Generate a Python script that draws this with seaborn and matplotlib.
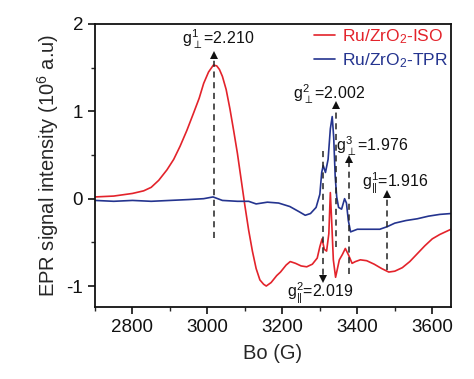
import numpy as np
import pandas as pd
import seaborn as sns
import matplotlib
matplotlib.use("Agg")
import matplotlib.pyplot as plt

# -------------------------
# data
# -------------------------
iso_field = [2700, 2750, 2800, 2830, 2850, 2870, 2892, 2910, 2927, 2945, 2963, 2978,
             2990, 3003, 3016, 3025, 3032, 3040, 3050, 3060, 3070, 3080, 3090, 3100,
             3110, 3120, 3130, 3140, 3150, 3157, 3170, 3185, 3195, 3210, 3221, 3235,
             3250, 3265, 3280, 3293, 3300, 3306, 3312, 3318, 3324, 3328, 3332, 3336,
             3342, 3347, 3352, 3360, 3368, 3376, 3386, 3395, 3408, 3425, 3445, 3465,
             3484, 3500, 3520, 3540, 3560, 3580, 3600, 3620, 3640, 3650]
iso_signal = [0.02, 0.03, 0.06, 0.09, 0.13, 0.21, 0.33, 0.45, 0.60, 0.78, 0.98, 1.15,
              1.32, 1.45, 1.53, 1.52, 1.48, 1.40, 1.25, 1.03, 0.78, 0.52, 0.22, -0.08,
              -0.36, -0.60, -0.80, -0.93, -0.98, -1.00, -0.96, -0.88, -0.84, -0.76, -0.72, -0.74,
              -0.77, -0.78, -0.75, -0.68, -0.55, -0.46, -0.58, -0.60, -0.40, 0.07, -0.30, -0.70,
              -0.90, -0.80, -0.70, -0.64, -0.57, -0.64, -0.74, -0.72, -0.70, -0.71, -0.75, -0.80,
              -0.84, -0.83, -0.79, -0.72, -0.63, -0.54, -0.46, -0.41, -0.37, -0.35]

tpr_field = [2700, 2750, 2800, 2850, 2900, 2950, 2990, 3015, 3040, 3080, 3110, 3130,
             3160, 3190, 3220, 3245, 3261, 3275, 3290, 3300, 3305, 3309, 3315, 3322,
             3328, 3333, 3337, 3341, 3345, 3350, 3358, 3366, 3371, 3376, 3382, 3400,
             3430, 3460, 3480, 3500, 3530, 3560, 3590, 3620, 3650]
tpr_signal = [-0.02, -0.03, -0.02, -0.03, -0.02, -0.01, 0.00, 0.02, -0.02, -0.03, -0.03, -0.06,
              -0.04, -0.05, -0.09, -0.15, -0.19, -0.17, -0.10, 0.05, 0.30, 0.38, 0.30, 0.45,
              0.80, 0.94, 0.70, 0.25, 0.02, -0.10, -0.12, 0.00, -0.05, -0.25, -0.38, -0.35,
              -0.35, -0.35, -0.32, -0.28, -0.25, -0.23, -0.20, -0.18, -0.17]

# g-factor markers: field, dashed line start, arrow tip, label
g_field = [3018, 3342, 3309, 3377, 3480]
g_from = [-0.45, -0.55, 0.55, -0.86, -0.82]
g_to = [1.65, 1.07, -0.92, 0.45, 0.05]
g_labels = ["g$^{1}_{\\perp}$=2.210", "g$^{2}_{\\perp}$=2.002", "g$^{2}_{||}$=2.019",
            "g$^{3}_{\\perp}$=1.976", "g$^{1}_{||}$=1.916"]
g_text_pos = [(3030, 1.82), (3325, 1.19), (3300, -1.09), (3440, 0.60), (3502, 0.18)]

series_names = ["Ru/ZrO$_2$-ISO", "Ru/ZrO$_2$-TPR"]
series_colors = ["#e3232b", "#24348f"]

# -------------------------
# plot
# -------------------------
sns.set_theme(style="ticks")
plt.rcParams["font.family"] = ["Liberation Sans", "DejaVu Sans"]
plt.rcParams["mathtext.default"] = "regular"

df = pd.concat([
    pd.DataFrame({"field": iso_field, "signal": iso_signal, "sample": series_names[0]}),
    pd.DataFrame({"field": tpr_field, "signal": tpr_signal, "sample": series_names[1]}),
])

fig = plt.figure(figsize=(4.74, 3.79), dpi=100)
ax = fig.add_axes([0.2004, 0.19, 0.7511, 0.7467])

sns.lineplot(data=df, x="field", y="signal", hue="sample", palette=series_colors,
             linewidth=1.2, sort=False, ax=ax)

for x, y0, y1 in zip(g_field, g_from, g_to):
    ax.plot([x, x], [y0, y1], color="#222222", lw=1.1, ls=(0, (4, 3)))
    ax.plot(x, y1, marker="^" if y1 > y0 else "v", color="#111111", ms=5.5, mew=0)

for lab, (tx, ty) in zip(g_labels, g_text_pos):
    ax.text(tx, ty, lab, ha="center", va="center", fontsize=11.5, color="#111111")

ax.set_xlim(2700, 3650)
ax.set_ylim(-1.24, 2)
ax.set_xticks([2800, 3000, 3200, 3400, 3600])
ax.set_xticks(np.arange(2700, 3651, 100), minor=True)
ax.set_yticks([-1, 0, 1, 2])
ax.set_yticks([-0.5, 0.5, 1.5], minor=True)
ax.set_yticklabels(["-1", "0", "1", "2"])
ax.tick_params(which="major", direction="out", length=5, width=1.2, labelsize=13.5, colors="#111111")
ax.tick_params(which="minor", direction="out", length=3, width=1.0)
for sp in ax.spines.values():
    sp.set_linewidth(1.3)
    sp.set_color("#111111")

ax.set_xlabel("Bo (G)", fontsize=14.5, labelpad=6)
ax.set_ylabel("EPR signal intensity (10$^{6}$ a.u)", fontsize=14.5, labelpad=4)

leg = ax.legend(loc="upper right", bbox_to_anchor=(1.0, 1.0), frameon=False, fontsize=12.5,
                handlelength=1.2, handletextpad=0.4, borderaxespad=0.0, borderpad=0.2,
                labelspacing=0.3)
for txt, c in zip(leg.get_texts(), series_colors):
    txt.set_color(c)

fig.savefig("out.png", dpi=100)
